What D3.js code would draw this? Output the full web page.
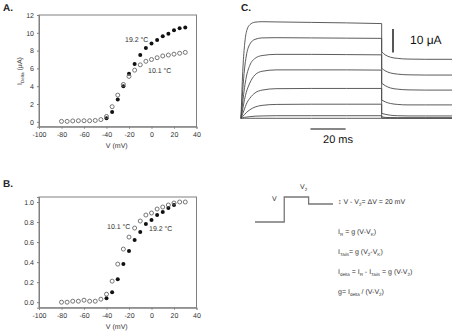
<!DOCTYPE html>
<html>
<head>
<meta charset="utf-8">
<script src="https://cdn.jsdelivr.net/npm/d3@7"></script>
<style>
  html, body { margin: 0; padding: 0; background: #fff; }
  svg { display: block; font-family: "Liberation Sans", Arial, sans-serif;
        -webkit-font-smoothing: antialiased; text-rendering: geometricPrecision; }
</style>
</head>
<body>
<svg id="fig" width="474" height="335"></svg>
<script>
// ---- Panel A: I_delta vs test potential (uA) ----
const voltages = [-80,-75,-70,-65,-60,-55,-50,-45,-40,-35,-30,-25,-20,-15,-10,-5,0,5,10,15,20,25,30];
const iDelta10 = [0.05,0.05,0.1,0.12,0.12,0.12,0.15,0.25,0.6,1.7,3.0,4.2,5.1,5.8,6.4,6.8,7.0,7.2,7.4,7.5,7.6,7.7,7.8];
const voltagesHot = [-40,-35,-30,-25,-20,-15,-10,-5,0,5,10,15,20,25,30];
const iDelta19 = [0.4,1.1,2.5,4.0,5.4,6.5,7.5,8.3,8.8,9.2,9.6,9.9,10.3,10.5,10.6];

// ---- Panel B: normalised conductance ----
const gNorm10 = [0,0,0.01,0.01,0.02,0.01,0.01,0.03,0.08,0.21,0.38,0.53,0.65,0.74,0.81,0.87,0.89,0.93,0.95,0.97,0.99,1.0,1.0];
const voltagesHotB = [-40,-35,-30,-25,-20,-15,-10,-5,0,5,10,15,20];
const gNorm19 = [0.04,0.10,0.23,0.38,0.51,0.62,0.70,0.78,0.82,0.87,0.90,0.94,0.97];

const xTicks = [-100,-80,-60,-40,-20,0,20,40];
const yTicksA = [0,2,4,6,8,10,12];
const yTicksB = [0,0.2,0.4,0.6,0.8,1.0];

// ---- Panel C: current traces (uA) ----
const pulseTimes = [0,1,2,3,5,8,12,20,40,60,80];
const pulseCurrents = [
  [0,20,31,36.5,39.8,40.9,41.1,41.0,40.8,40.6,40.3],
  [0,12,21,26.5,31.5,33.6,34.2,34.3,34.2,34.1,34.0],
  [0,7,13,17.5,22.5,25.5,26.7,27.2,27.2,27.1,27.0],
  [0,4,8,11,15,18.5,20,20.6,20.6,20.6,20.5],
  [0,2,4,6,8.5,10.8,12,12.6,12.7,12.7,12.7],
  [0,0.8,1.6,2.4,3.6,4.8,5.5,5.9,6.0,6.0,6.0],
  [0,0.2,0.4,0.5,0.7,0.9,1.0,1.1,1.1,1.1,1.1],
  [0,0,0,0,0,0,0,0,0,0,0]
];
const tailTimes = [80,82,85,89,95,105,120];
const tailCurrents = [
  [28.3,27.0,26.0,25.5,25.2,25.1,25.1],
  [21.3,20.2,19.3,18.8,18.5,18.4,18.4],
  [14.9,13.9,12.9,12.4,12.1,12.0,12.0],
  [7.8,7.0,6.3,5.9,5.7,5.7,5.7],
  [2.1,1.7,1.3,1.1,1.0,1.0,1.0],
  [0.6,0.4,0.3,0.2,0.2,0.2,0.2],
  [0.1,0.1,0.1,0.1,0.1,0.1,0.1],
  [0,0,0,0,0,0,0]
];
const scaleBarCurrent = 10; // uA
const scaleBarTime = 20;    // ms

// ---- Protocol sketch ----
const protoTimes = [0,30,30,55,55,80];
const protoLevels = [0,0,1,1,0.72,0.72];

const svg = d3.select("#fig");
const textCol = "#333";
const axisCol = "#808080";

function panelLabel(txt, x, y) {
  svg.append("text").attr("x", x).attr("y", y).text(txt)
    .attr("font-size", 10).attr("font-weight", "bold").attr("fill", "#222");
}

function scatterPanel(opts) {
  const g = svg.append("g");
  const x = d3.scaleLinear().domain([-100, 40]).range([opts.left, opts.right]);
  const y = d3.scaleLinear().domain(opts.yDomain).range([opts.bottom, opts.top]);

  // frame
  g.append("rect").attr("x", opts.left).attr("y", opts.top)
    .attr("width", opts.right - opts.left).attr("height", opts.bottom - opts.top)
    .attr("fill", "none").attr("stroke", axisCol).attr("stroke-width", 1);

  const xAxis = d3.axisBottom(x).tickValues(xTicks).tickSize(2).tickPadding(3)
    .tickFormat(d => String(d));
  const yAxis = d3.axisLeft(y).tickValues(opts.yTicks).tickSize(2).tickPadding(3)
    .tickFormat(opts.yFormat);

  const gx = g.append("g").attr("transform", `translate(0,${opts.bottom})`).call(xAxis);
  const gy = g.append("g").attr("transform", `translate(${opts.left},0)`).call(yAxis);
  [gx, gy].forEach(a => {
    a.select(".domain").attr("stroke", axisCol);
    a.selectAll(".tick line").attr("stroke", axisCol);
    a.selectAll("text").attr("fill", textCol).attr("font-size", 7)
      .attr("font-family", "Liberation Sans, Arial, sans-serif");
  });

  g.append("text").attr("x", (opts.left + opts.right) / 2 - 1).attr("y", opts.bottom + 21)
    .attr("text-anchor", "middle").attr("font-size", 7).attr("fill", textCol).text("V (mV)");

  // filled markers first, open markers over them
  g.selectAll("circle.hot").data(opts.hotV.map((v, i) => [v, opts.hotY[i]])).join("circle")
    .attr("class", "hot").attr("cx", d => x(d[0])).attr("cy", d => y(d[1])).attr("r", 2)
    .attr("fill", "#111");
  g.selectAll("circle.cold").data(voltages.map((v, i) => [v, opts.coldY[i]])).join("circle")
    .attr("class", "cold").attr("cx", d => x(d[0])).attr("cy", d => y(d[1])).attr("r", 2)
    .attr("fill", "none").attr("stroke", "#666").attr("stroke-width", 0.9);

  opts.notes.forEach(n => {
    g.append("text").attr("x", n.x).attr("y", n.y).attr("font-size", 7)
      .attr("fill", textCol).text(n.t);
  });
  return { g, x, y };
}

// Panel A
panelLabel("A.", 3, 11);
scatterPanel({
  left: 39, right: 196.5, top: 15, bottom: 126.7,
  yDomain: [-0.55, 12], yTicks: yTicksA, yFormat: d => String(d),
  hotV: voltagesHot, hotY: iDelta19, coldY: iDelta10,
  notes: [{ x: 125, y: 42, t: "19.2 °C" }, { x: 148, y: 73, t: "10.1 °C" }]
});
const yl = svg.append("text").attr("transform", "translate(22,71) rotate(-90)")
  .attr("text-anchor", "middle").attr("font-size", 7).attr("fill", textCol);
yl.append("tspan").text("I");
yl.append("tspan").attr("font-size", 4.5).attr("dy", 1.5).text("Delta");
yl.append("tspan").attr("dy", -1.5).text(" (μA)");

// Panel B
panelLabel("B.", 3, 187);
scatterPanel({
  left: 39, right: 196.5, top: 197, bottom: 307.7,
  yDomain: [-0.055, 1.05], yTicks: yTicksB, yFormat: d3.format(".1f"),
  hotV: voltagesHotB, hotY: gNorm19, coldY: gNorm10,
  notes: [{ x: 107, y: 229, t: "10.1 °C" }, { x: 149, y: 231, t: "19.2 °C" }]
});

// Panel C: traces
panelLabel("C.", 241, 11);
const tx = d3.scaleLinear().domain([0, 120]).range([241, 452]);
const ty = d3.scaleLinear().domain([0, 41.1]).range([118.3, 21.7]);
const traceLine = d3.line().x(d => tx(d[0])).y(d => ty(d[1])).curve(d3.curveMonotoneX);
const gc = svg.append("g");
pulseCurrents.forEach((pc, i) => {
  const pulsePts = pulseTimes.map((t, j) => [t, pc[j]]);
  const tailPts = tailTimes.map((t, j) => [t, tailCurrents[i][j]]);
  const d = traceLine(pulsePts) + "L" + traceLine(tailPts).slice(1);
  gc.append("path").attr("d", d).attr("fill", "none")
    .attr("stroke", "#4a4a4a").attr("stroke-width", 0.9);
});

// scale bars
const barX = 393;
gc.append("line").attr("x1", barX).attr("x2", barX)
  .attr("y1", ty(scaleBarCurrent + 28)).attr("y2", ty(28))
  .attr("stroke", "#111").attr("stroke-width", 1.4);
gc.append("text").attr("x", 410).attr("y", 44).attr("font-size", 12)
  .attr("fill", "#111").text("10 μA");
const barT0 = 39.5;
gc.append("line").attr("x1", tx(barT0)).attr("x2", tx(barT0 + scaleBarTime))
  .attr("y1", 129).attr("y2", 129).attr("stroke", "#111").attr("stroke-width", 1.2);
gc.append("text").attr("x", 338).attr("y", 143).attr("text-anchor", "middle")
  .attr("font-size", 11).attr("fill", "#111").text("20 ms");

// Protocol sketch
const px = d3.scaleLinear().domain([0, 80]).range([255, 333]);
const py = d3.scaleLinear().domain([0, 1]).range([222, 197]);
svg.append("path")
  .attr("d", d3.line().x(d => px(d[0])).y(d => py(d[1]))(protoTimes.map((t, i) => [t, protoLevels[i]])))
  .attr("fill", "none").attr("stroke", "#777").attr("stroke-width", 1.3);
svg.append("text").attr("x", 272).attr("y", 201).attr("font-size", 7).attr("fill", textCol).text("V");
const v2 = svg.append("text").attr("x", 300).attr("y", 189).attr("font-size", 7).attr("fill", textCol);
v2.append("tspan").text("V");
v2.append("tspan").attr("font-size", 4.5).attr("dy", 1.5).text("2");

// Equations
function eq(y, parts) {
  const t = svg.append("text").attr("x", 338).attr("y", y).attr("font-size", 7).attr("fill", textCol);
  let shift = 0;
  parts.forEach(p => {
    const sub = typeof p !== "string";
    const s = t.append("tspan").text(sub ? p.s : p);
    const dy = sub ? 1.5 - shift : -shift;
    if (dy !== 0) s.attr("dy", dy);
    shift = sub ? 1.5 : 0;
    if (sub) s.attr("font-size", 4.5);
  });
}
eq(204, ["↕ V - V", { s: "2" }, "= ΔV = 20 mV"]);
eq(234, ["I", { s: "R" }, " = g (V-V", { s: "K" }, ")"]);
eq(254, ["I", { s: "Tails" }, "= g (V", { s: "2" }, "-V", { s: "K" }, ")"]);
eq(274, ["I", { s: "delta" }, " = I", { s: "R" }, " - I", { s: "Tails" }, " = g (V-V", { s: "2" }, ")"]);
eq(294, ["g= I", { s: "delta" }, " / (V-V", { s: "2" }, ")"]);
</script>
</body>
</html>
